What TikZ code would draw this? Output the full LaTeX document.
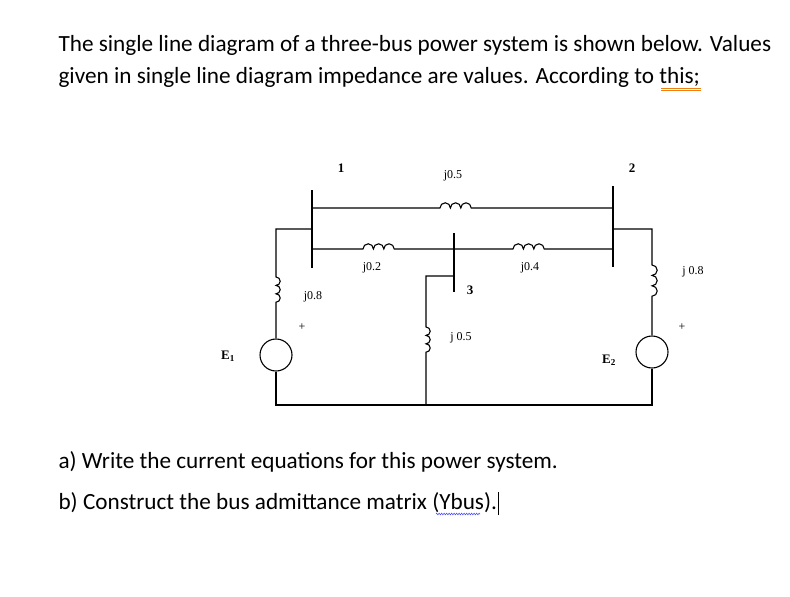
\documentclass[tikz,border=0pt]{standalone}
\usepackage{fontspec}
\setmainfont{Carlito}
\newfontfamily\tnr{Liberation Serif}
\usetikzlibrary{decorations.pathmorphing}
\begin{document}
\begin{tikzpicture}[x=1pt,y=-1pt,line width=1.1pt,
  wire/.style={line width=1.1pt},
  busbar/.style={line width=2.2pt},
  lab/.style={font=\tnr\fontsize{12}{12}\selectfont,inner sep=0},
  blab/.style={font=\tnr\bfseries\fontsize{13}{13}\selectfont,inner sep=0},
  txt/.style={font=\fontsize{23.2}{23.2}\selectfont,anchor=base west,inner sep=0}]
\useasboundingbox (0,0) rectangle (790,597);
% texts
\node[txt] (t1) at (58,51) {The single line diagram of a three-bus power system is shown below. Values};
\node[txt] (t2) at (58,83) {given in single line diagram impedance are values. According to this;};
\node[txt] (qa) at (58,468) {a) Write the current equations for this power system.};
\node[txt] (qb) at (58,509) {b) Construct the bus admittance matrix (Ybus).};
\draw[line width=0.6pt,orange!70!brown] (661,88) -- (701,88) (661,90.5) -- (701,90.5);
\draw[line width=0.6pt,blue!70,decorate,decoration={zigzag,amplitude=0.8pt,segment length=2.5pt}] (436,514) -- (480,514);
\draw[line width=0.8pt] (498,492) -- (498,515);
% buses
\coordinate (b1t) at (312,190); \coordinate (b1b) at (312,268);
\coordinate (b2t) at (613,186); \coordinate (b2b) at (613,267);
\coordinate (b3t) at (454,233); \coordinate (b3b) at (454,292);
\draw[busbar] (b1t) -- (b1b); \draw[busbar] (b2t) -- (b2b); \draw[busbar] (b3t) -- (b3b);
% top line
\draw[wire] (312,208) -- (440,208) arc[start angle=180,end angle=360,radius=5.2] arc[start angle=180,end angle=360,radius=5.2] arc[start angle=180,end angle=360,radius=5.2] -- (613,208);
% middle lines
\draw[wire] (312,249) -- (363,249) arc[start angle=180,end angle=360,radius=5.2] arc[start angle=180,end angle=360,radius=5.2] arc[start angle=180,end angle=360,radius=5.2] -- (454,249);
\draw[wire] (454,249) -- (513,249) arc[start angle=180,end angle=360,radius=5.2] arc[start angle=180,end angle=360,radius=5.2] arc[start angle=180,end angle=360,radius=5.2] -- (613,249);
% sources
\node[draw,circle,minimum size=32pt,inner sep=0,line width=1.1pt] (g1) at (276,355) {};
\node[draw,circle,minimum size=32pt,inner sep=0,line width=1.1pt] (g2) at (652,352) {};
\draw[wire] (312,229) -- (276,229) -- (276,277) arc[start angle=270,end angle=450,radius=4.2] arc[start angle=270,end angle=450,radius=4.2] arc[start angle=270,end angle=450,radius=4.2] -- (g1.north);
\draw[wire] (613,229) -- (652,229) -- (652,265) arc[start angle=270,end angle=450,radius=5.2] arc[start angle=270,end angle=450,radius=5.2] arc[start angle=270,end angle=450,radius=5.2] -- (g2.north);
\draw[wire] (454,276) -- (426,276) -- (426,327) arc[start angle=270,end angle=450,radius=4.2] arc[start angle=270,end angle=450,radius=4.2] arc[start angle=270,end angle=450,radius=4.2] -- (426,405);
\draw[wire] (g1.south) -- (276,405) -- (652,405) -- (g2.south);
% labels
\node[blab] (n1) at (341,168) {1};
\node[blab] (n2) at (632,168) {2};
\node[blab] (n3) at (470,290) {3};
\node[lab] (l1) at (453,176) {j0.5};
\node[lab] (l2) at (372,268) {j0.2};
\node[lab] (l3) at (530,268) {j0.4};
\node[lab] (l4) at (313,297) {j0.8};
\node[lab] (l5) at (461,338) {j 0.5};
\node[lab] (l6) at (693,272) {j 0.8};
\node[lab] (p1) at (302,327) {+};
\node[lab] (p2) at (682,327) {+};
\node[blab] (e1) at (228,356) {E\textsubscript{1}};
\node[blab] (e2) at (609,360) {E\textsubscript{2}};
\end{tikzpicture}
\end{document}
